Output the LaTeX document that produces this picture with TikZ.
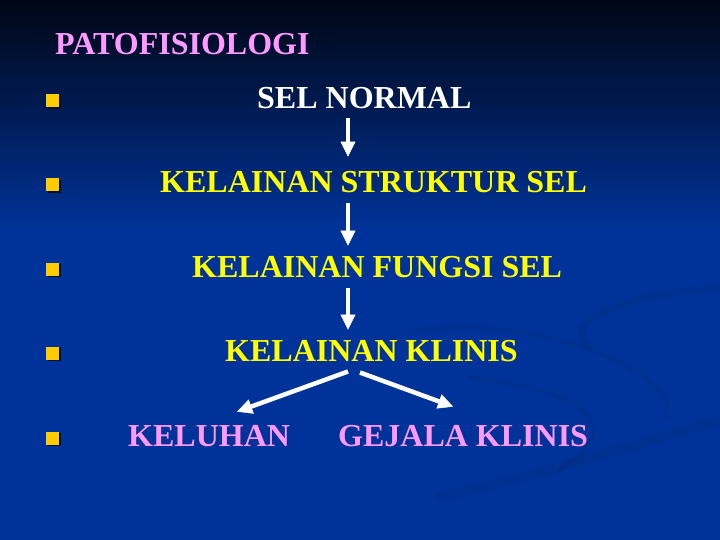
\documentclass[tikz,border=0pt]{standalone}
\usepackage{fontspec}
\setmainfont{Liberation Serif}
\usetikzlibrary{positioning}
\usetikzlibrary{arrows.meta}
\usetikzlibrary{shadows}
\definecolor{slide}{HTML}{003399}
\definecolor{slidetop}{HTML}{000614}
\definecolor{pinky}{HTML}{FF99FF}
\definecolor{lemon}{HTML}{FFFF00}
\definecolor{gold}{HTML}{FFCC00}
\definecolor{shade}{HTML}{061030}

\begin{document}
\begin{tikzpicture}[x=1pt, y=-1pt,
      label text/.style={font=\fontsize{32}{36}\selectfont\bfseries,
          inner sep=0pt, anchor=base west},
      bullet/.style={fill=gold, minimum size=13pt, inner sep=0pt,
          drop shadow={shadow xshift=1.5pt, shadow yshift=-1.5pt,
            fill=shade, opacity=1}},
      flow/.style={white, line width=4.5pt,
          -{Triangle[length=15pt, width=15pt, line width=0.5pt]}},
      swirl/.style={draw=black, opacity=.06, line cap=round}]
    \useasboundingbox (0,0) rectangle (720,540);
    \fill[slide] (0,0) rectangle (720,540);
    \shade[top color=slidetop, bottom color=slide] (0,0) rectangle (720,230);
    \begin{scope}
      \clip (0,0) rectangle (720,540);
      \draw[swirl, line width=7pt] (720,288) .. controls (640,292) and (555,318) .. (590,348);
      \draw[swirl, line width=5pt] (410,332) .. controls (520,310) and (690,370) .. (665,420);
      \draw[swirl, line width=5pt] (470,378) .. controls (560,385) and (640,420) .. (560,470);
      \draw[swirl, line width=10pt] (440,497) .. controls (560,470) and (650,440) .. (720,420);
    \end{scope}

    % heading
    \node[label text, text=pinky] (title) at (55,55) {PATOFISIOLOGI};

    % bullets
    \node[bullet] (b1) at (52.5,101) {};
    \node[bullet] (b2) at (52.5,185) {};
    \node[bullet] (b3) at (52.5,269) {};
    \node[bullet] (b4) at (52.5,353) {};
    \node[bullet] (b5) at (52.5,438) {};

    % chain
    \node[label text, text=white] (normal) at (257,109) {SEL NORMAL};
    \node[label text, text=lemon] (struktur) at (160,193) {KELAINAN STRUKTUR SEL};
    \node[label text, text=lemon] (fungsi) at (192,277) {KELAINAN FUNGSI SEL};
    \node[label text, text=lemon] (klinis) at (225,361) {KELAINAN KLINIS};
    \node[label text, text=pinky] (keluhan) at (128,446) {KELUHAN};
    \node[label text, text=pinky] (gejala) at (338,446) {GEJALA KLINIS};

    \coordinate (axis) at (348,0);
    \path (klinis.south -| axis) ++(0,10) coordinate (forkL) ++(12,1) coordinate (forkR);
    \path (keluhan.north) ++(28,-13) coordinate (tipL);
    \path (gejala.north) ++(-10,-18) coordinate (tipR);

    \draw[flow, shorten <=8pt, shorten >=15pt] (normal.south -| axis) -- (struktur.north -| axis);
    \draw[flow, shorten <=9pt, shorten >=10pt] (struktur.south -| axis) -- (fungsi.north -| axis);
    \draw[flow, shorten <=10pt, shorten >=10pt] (fungsi.south -| axis) -- (klinis.north -| axis);
    \draw[flow] (forkL) -- (tipL);
    \draw[flow] (forkR) -- (tipR);
  \end{tikzpicture}
\end{document}
